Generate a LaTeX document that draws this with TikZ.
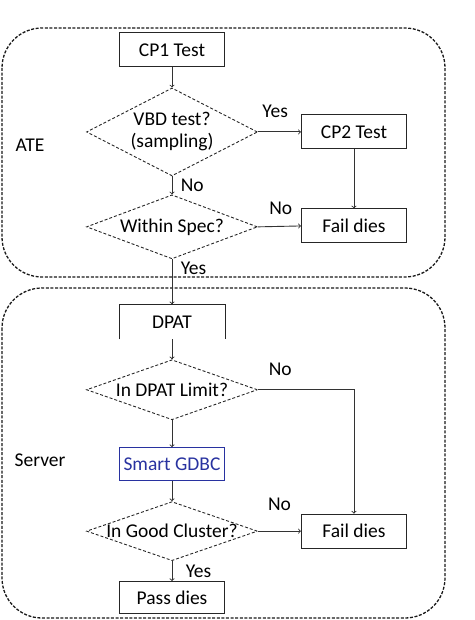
\documentclass[tikz,border=0pt]{standalone}
\usepackage{fontspec}
\setmainfont{Carlito}
\usepackage{tikz}
\usetikzlibrary{shapes, calc, arrows, positioning}

\definecolor{gdbcblue}{RGB}{40,50,160}

\begin{document}
\begin{tikzpicture}[x=1pt, y=-1pt, font=\fontsize{19.5}{22}\selectfont, >=to,
  box/.style={rectangle, draw=black!85, line width=1pt, minimum width=105pt, minimum height=34pt, inner sep=0pt},
  decision/.style={diamond, draw=black!85, dash pattern=on 3pt off 2pt, line width=0.9pt, inner sep=0pt, minimum width=171pt},
  group/.style={draw=black!90, dash pattern=on 3pt off 1.6pt, line width=1.3pt, rounded corners=40pt},
  flow/.style={->, draw=black!80, line width=0.9pt}]

\useasboundingbox (0,0) rectangle (474,620);

% the two stations
\draw[group] (2,28) rectangle (445,277);
\draw[group] (2,288) rectangle (445,618);
\node (ate) at (30,145) {ATE};
\node (server) at (40,460) {Server};

% ATE flow
\node[box] (cp1) at (172,50) {CP1 Test};
\node[decision, minimum height=88pt, below=20pt of cp1, label={[align=center]center:VBD test?\\(sampling)}] (vbd) {};
\node[decision, minimum height=64pt, below=18pt of vbd, label=center:Within Spec?] (spec) {};
\node[box, right=43pt of vbd] (cp2) {CP2 Test};
\node[box, below=59pt of cp2] (fail) {Fail dies};

% server flow
\node[box, draw=none, below=45pt of spec] (dpat) {DPAT};
\draw[black!85, line width=1pt] (dpat.south west) |- (dpat.north east) -- (dpat.south east);
\node[decision, minimum height=60pt, below=20pt of dpat, label=center:In DPAT Limit?] (limit) {};
\node[box, draw=gdbcblue, text=gdbcblue, minimum height=33pt, below=27pt of limit] (gdbc) {Smart GDBC};
\node[decision, minimum height=59pt, below=20pt of gdbc, label=center:In Good Cluster?] (cluster) {};
\node[box, minimum height=32pt, below=20pt of cluster] (pass) {Pass dies};
\node[box, right=43pt of cluster] (fail2) {Fail dies};

\draw[flow] (cp1) -- (vbd);
\draw[flow] (vbd) -- (cp2) node[above=11pt, pos=0.4] {Yes};
\draw[flow] (vbd) -- (spec) node[right=5pt, midway] {No};
\draw[flow] (cp2) -- (fail);
\draw[flow] (spec.east) -- (fail.west) node[above=8pt, pos=0.53] {No};
\draw[flow] (spec) -- (dpat) node[right=5pt, pos=0.2] {Yes};
\draw[flow] (dpat) -- (limit);
\draw[flow] (limit.east) -| (fail2.north) node[above=10pt, pos=0.116] {No};
\draw[flow] (limit) -- (gdbc);
\draw[flow] (gdbc) -- (cluster);
\draw[flow] (cluster) -- (fail2) node[above=17pt, midway] {No};
\draw[flow] (cluster) -- (pass) node[right=10pt, midway] {Yes};

\end{tikzpicture}
\end{document}
